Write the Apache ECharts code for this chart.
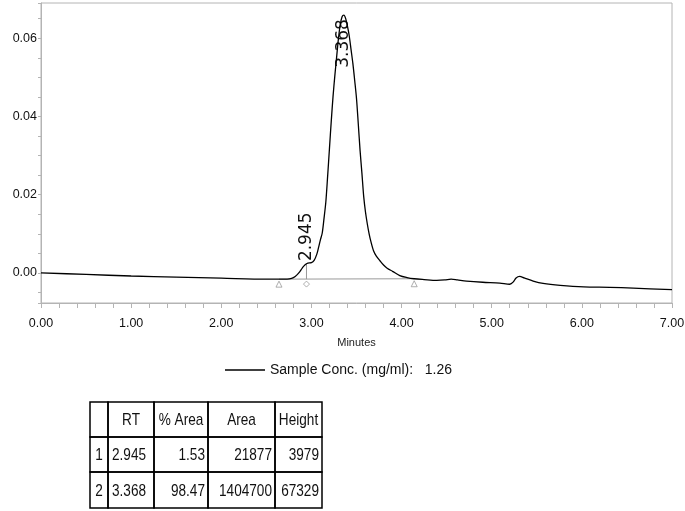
<!DOCTYPE html>
<html>
<head>
<meta charset="utf-8">
<script src="https://cdn.jsdelivr.net/npm/echarts@6/dist/echarts.min.js"></script>
<style>html,body{margin:0;padding:0;background:#fff}#c{width:685px;height:511px}</style>
</head>
<body>
<div id="c"></div>
<script>
// ---- data ----
const traceTime = [0.00,0.50,1.00,1.50,2.00,2.50,2.64,2.73,2.78,2.82,2.86,2.90,2.93,2.96,3.00,3.03,3.06,3.08,3.10,3.12,3.14,3.16,3.18,3.20,3.22,3.24,3.26,3.28,3.30,3.32,3.34,3.36,3.38,3.40,3.42,3.44,3.46,3.48,3.50,3.52,3.54,3.56,3.58,3.60,3.62,3.64,3.66,3.69,3.72,3.76,3.80,3.84,3.90,3.98,4.06,4.14,4.25,4.39,4.48,4.55,4.62,4.72,4.90,5.09,5.20,5.24,5.27,5.31,5.36,5.46,5.57,5.76,6.02,6.31,6.57,7.00];
const traceAU = [0.0000,-0.0004,-0.0008,-0.0011,-0.00135,-0.0016,-0.0016,-0.0016,-0.0014,-0.0009,0.0000,0.0013,0.0021,0.0025,0.0026,0.0032,0.0048,0.0066,0.0085,0.0102,0.0140,0.0182,0.0248,0.0318,0.0388,0.0452,0.0505,0.0553,0.0600,0.0635,0.0655,0.0659,0.0650,0.0630,0.0605,0.0570,0.0535,0.0492,0.0446,0.0380,0.0312,0.0255,0.0195,0.0155,0.0125,0.0100,0.0080,0.0056,0.0043,0.0031,0.0020,0.0012,0.0004,-0.0007,-0.0012,-0.0015,-0.0017,-0.0019,-0.0018,-0.0016,-0.0018,-0.0021,-0.0024,-0.0026,-0.0029,-0.0023,-0.0013,-0.0009,-0.0013,-0.0021,-0.0027,-0.0032,-0.0036,-0.0037,-0.0039,-0.0043];
const baselineTime = [2.64, 4.14];
const baselineAU = [-0.0016, -0.0015];
const peakRT = [2.945, 3.368];
const peakLabel = ['2.945', '3.368'];
const peakApexAU = [0.0025, 0.0659];
const peakBaseAU = [-0.00158, -0.00155];
const seriesName = 'Sample Conc. (mg/ml):   1.26';
const tableHeader = ['', 'RT', '% Area', 'Area', 'Height'];
const tableRowNo = ['1', '2'];
const tableRT = ['2.945', '3.368'];
const tablePctArea = ['1.53', '98.47'];
const tableArea = ['21877', '1404700'];
const tableHeight = ['3979', '67329'];

const SANS = '"Liberation Sans",Arial,sans-serif';
const GRAY = '#b4b4b4';

const chart = echarts.init(document.getElementById('c'), null, {renderer: 'canvas'});

const tracePts = traceTime.map((t, i) => [t, traceAU[i]]);
const basePts = baselineTime.map((t, i) => [t, baselineAU[i]]);
const dropPts = [[peakRT[0], peakBaseAU[0]], [peakRT[0], peakApexAU[0] - 0.0002]];

function isMult(v, step) { const q = v / step; return Math.abs(q - Math.round(q)) < 1e-6; }

chart.setOption({
  animation: false,
  backgroundColor: '#fff',
  grid: {left: 41, right: 13, top: 3, bottom: 208, show: true, borderColor: GRAY, borderWidth: 1,
    outerBoundsMode: 'none', containLabel: false},
  legend: {
    data: [{name: seriesName, icon: 'rect', itemStyle: {color: '#000'}}],
    left: 225, top: 363, padding: 0, itemWidth: 40, itemHeight: 1.3, itemGap: 10,
    textStyle: {fontFamily: SANS, fontSize: 14, color: '#111'}
  },
  xAxis: {
    type: 'value', min: 0, max: 7, interval: 0.2,
    name: 'Minutes', nameLocation: 'middle', nameGap: 34,
    nameTextStyle: {fontFamily: SANS, fontSize: 11, color: '#222'},
    axisLine: {show: true, onZero: false, lineStyle: {color: GRAY, width: 1}},
    axisTick: {show: true, length: 5, lineStyle: {color: GRAY}},
    splitLine: {show: false},
    axisLabel: {margin: 14, fontFamily: SANS, fontSize: 12.5, color: '#111',
      formatter: v => isMult(v, 1) ? v.toFixed(2) : ''}
  },
  yAxis: {
    type: 'value', min: -0.0077, max: 0.069, splitNumber: 15, minInterval: 0.005, maxInterval: 0.005,
    name: 'AU', nameLocation: 'middle', nameGap: 33, nameRotate: 90,
    nameTextStyle: {fontFamily: SANS, fontSize: 13, color: '#111'},
    axisLine: {show: true, onZero: false, lineStyle: {color: GRAY, width: 1}},
    axisTick: {show: true, length: 3, lineStyle: {color: GRAY}},
    splitLine: {show: false},
    axisLabel: {margin: 4, fontFamily: SANS, fontSize: 12.5, color: '#111',
      formatter: v => isMult(v, 0.02) ? v.toFixed(2) : ''}
  },
  series: [
    {name: 'baseline', type: 'line', data: basePts, symbol: 'none', silent: true,
      lineStyle: {color: '#9a9a9a', width: 1}, z: 1},
    {name: 'drop', type: 'line', data: dropPts, symbol: 'none', silent: true,
      lineStyle: {color: '#9a9a9a', width: 1}, z: 1},
    {name: 'bounds', type: 'scatter', silent: true, z: 3,
      data: basePts.map(p => ({value: p, symbol: 'triangle'})).concat([{value: [peakRT[0], peakBaseAU[0]], symbol: 'diamond'}]),
      symbolSize: 6, symbolOffset: [0, 5],
      itemStyle: {color: '#fff', borderColor: '#9a9a9a', borderWidth: 1}},
    {name: seriesName, type: 'line', data: tracePts, symbol: 'none', smooth: 0.3,
      lineStyle: {color: '#000', width: 1.3}, itemStyle: {color: '#000'}, z: 2}
  ]
});

// peak labels, anchored via the chart's own scales
const graphics = [];
peakRT.forEach((rt, i) => {
  const p = chart.convertToPixel({gridIndex: 0}, [rt, peakApexAU[i]]);
  const isApex = i === 1;
  graphics.push({
    type: 'text', x: isApex ? p[0] - 1 : p[0], y: isApex ? p[1] + 4 : p[1] - 2, rotation: Math.PI / 2,
    style: {text: peakLabel[i], fontFamily: 'DejaVu Sans, sans-serif', fontSize: 17, fill: '#111',
      align: isApex ? 'right' : 'left', verticalAlign: 'middle'}
  });
});

// results table
const colX = [90, 108, 154, 208, 275, 322];
const rowY = [402, 437, 472, 508];
const rows = [tableHeader].concat(tableRowNo.map((n, i) => [n, tableRT[i], tablePctArea[i], tableArea[i], tableHeight[i]]));
rows.forEach((r, ri) => {
  r.forEach((txt, ci) => {
    const x0 = colX[ci], x1 = colX[ci + 1], y0 = rowY[ri], y1 = rowY[ri + 1];
    graphics.push({type: 'rect', shape: {x: x0, y: y0, width: x1 - x0, height: y1 - y0},
      style: {fill: 'none', stroke: '#000', lineWidth: 1.5}});
    let align = 'center', tx = (x0 + x1) / 2;
    if (ri > 0 && ci === 1) { align = 'left'; tx = x0 + 4; }
    else if (ri > 0 && ci >= 2) { align = 'right'; tx = x1 - 3; }
    graphics.push({type: 'text', x: tx, y: (y0 + y1) / 2 + 1, scaleX: 0.8,
      style: {text: txt, fontFamily: SANS, fontSize: 17, fill: '#111', align: align, verticalAlign: 'middle'}});
  });
});
chart.setOption({graphic: graphics});
</script>
</body>
</html>
